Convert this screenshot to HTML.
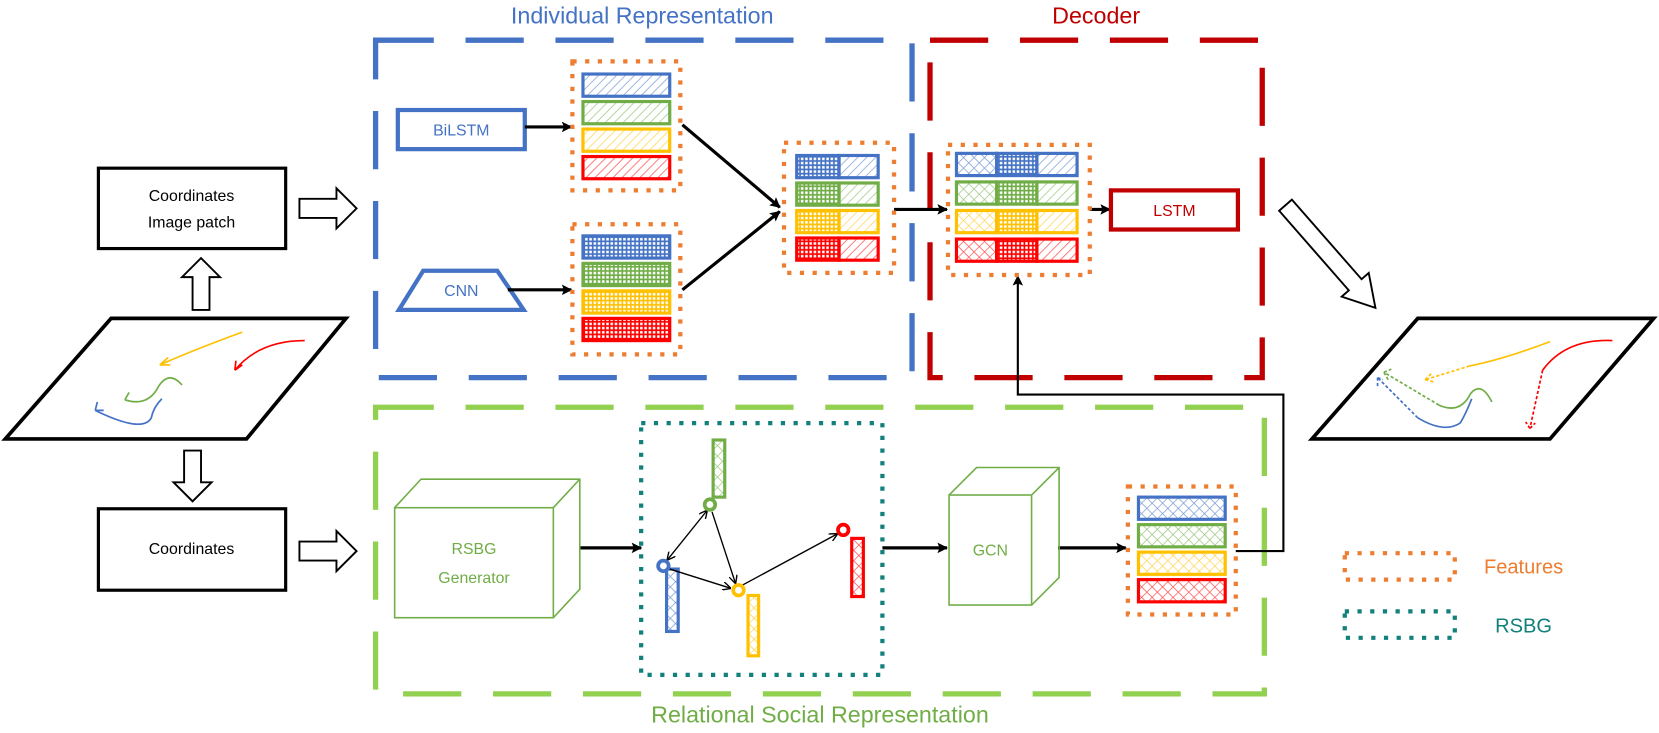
<!DOCTYPE html>
<html><head><meta charset="utf-8"><style>
html,body{margin:0;padding:0;background:#fff;}
svg{display:block;}
text{font-family:"Liberation Sans",sans-serif;}
</style></head><body>
<svg width="1659" height="733" viewBox="0 0 1568 693" preserveAspectRatio="none" xmlns="http://www.w3.org/2000/svg">
<defs>
<marker id="ah" markerWidth="10" markerHeight="10" refX="9" refY="5" orient="auto" markerUnits="userSpaceOnUse"><path d="M0,0 L10,5 L0,10 L2,5 z" fill="#000"/></marker>
<marker id="ahs" markerWidth="8" markerHeight="8" refX="7" refY="4" orient="auto-start-reverse" markerUnits="userSpaceOnUse"><path d="M0,0 L8,4 L0,8" fill="none" stroke="#000" stroke-width="1.3"/></marker>
<!-- hatch patterns -->
<pattern id="hB" width="6" height="6" patternUnits="userSpaceOnUse" patternTransform="rotate(45)"><line x1="0" y1="0" x2="0" y2="6" stroke="#4472c4" stroke-width="1.6" opacity=".6"/></pattern>
<pattern id="hG" width="6" height="6" patternUnits="userSpaceOnUse" patternTransform="rotate(45)"><line x1="0" y1="0" x2="0" y2="6" stroke="#70ad47" stroke-width="1.6" opacity=".6"/></pattern>
<pattern id="hY" width="6" height="6" patternUnits="userSpaceOnUse" patternTransform="rotate(45)"><line x1="0" y1="0" x2="0" y2="6" stroke="#ffc000" stroke-width="1.6" opacity=".6"/></pattern>
<pattern id="hR" width="6" height="6" patternUnits="userSpaceOnUse" patternTransform="rotate(45)"><line x1="0" y1="0" x2="0" y2="6" stroke="#ff0000" stroke-width="1.6" opacity=".6"/></pattern>
<pattern id="gB" width="4" height="4" patternUnits="userSpaceOnUse"><rect width="4" height="4" fill="#4472c4"/><rect x="1" y="1" width="2.4" height="2.4" fill="#fff"/></pattern>
<pattern id="gG" width="4" height="4" patternUnits="userSpaceOnUse"><rect width="4" height="4" fill="#70ad47"/><rect x="1" y="1" width="2.4" height="2.4" fill="#fff"/></pattern>
<pattern id="gY" width="4" height="4" patternUnits="userSpaceOnUse"><rect width="4" height="4" fill="#ffc000"/><rect x="1" y="1" width="2.4" height="2.4" fill="#fff"/></pattern>
<pattern id="gR" width="4" height="4" patternUnits="userSpaceOnUse"><rect width="4" height="4" fill="#ff0000"/><rect x="1" y="1" width="2.4" height="2.4" fill="#fff"/></pattern>
<pattern id="xB" width="7" height="7" patternUnits="userSpaceOnUse" patternTransform="rotate(45)"><path d="M0,0V7M0,0H7" stroke="#4472c4" stroke-width="1.3" opacity=".7"/></pattern>
<pattern id="xG" width="7" height="7" patternUnits="userSpaceOnUse" patternTransform="rotate(45)"><path d="M0,0V7M0,0H7" stroke="#70ad47" stroke-width="1.3" opacity=".7"/></pattern>
<pattern id="xY" width="7" height="7" patternUnits="userSpaceOnUse" patternTransform="rotate(45)"><path d="M0,0V7M0,0H7" stroke="#ffc000" stroke-width="1.3" opacity=".7"/></pattern>
<pattern id="xR" width="7" height="7" patternUnits="userSpaceOnUse" patternTransform="rotate(45)"><path d="M0,0V7M0,0H7" stroke="#ff0000" stroke-width="1.3" opacity=".7"/></pattern>
</defs>

<!-- titles -->
<text x="607" y="22" font-size="22" fill="#4472c4" text-anchor="middle">Individual Representation</text>
<text x="1036" y="22" font-size="22" fill="#c00000" text-anchor="middle">Decoder</text>
<text x="775" y="683" font-size="22" fill="#70ad47" text-anchor="middle">Relational Social Representation</text>

<!-- dashed boxes -->
<rect x="355" y="38" width="507" height="319" fill="none" stroke="#4472c4" stroke-width="5" stroke-dasharray="55 30"/>
<rect x="879" y="38" width="314" height="319" fill="none" stroke="#c00000" stroke-width="5" stroke-dasharray="55 30"/>
<rect x="355" y="385" width="840" height="271" fill="none" stroke="#92d050" stroke-width="5" stroke-dasharray="55 30"/>

<!-- left boxes -->
<rect x="93" y="159" width="177" height="76" fill="#fff" stroke="#000" stroke-width="3"/>
<text x="181" y="190" font-size="15" text-anchor="middle">Coordinates</text>
<text x="181" y="215" font-size="15" text-anchor="middle">Image patch</text>
<rect x="93" y="481" width="177" height="77" fill="#fff" stroke="#000" stroke-width="3"/>
<text x="181" y="524" font-size="15" text-anchor="middle">Coordinates</text>

<!-- hollow arrows -->
<g fill="#fff" stroke="#000" stroke-width="1.8">
<polygon points="283,188 318,188 318,178 337,197 318,216 318,206 283,206"/>
<polygon points="283,512 318,512 318,502 337,521 318,540 318,530 283,530"/>
<polygon points="182,293 182,262 172,262 190,244 208,262 198,262 198,293"/>
<polygon points="174,426 190,426 190,456 200,456 182,474 164,456 174,456"/>
<polygon transform="translate(1215,194) rotate(48.8)" points="0,-8 100,-8 100,-17 129,0 100,17 100,8 0,8"/>
</g>

<!-- parallelograms -->
<polygon points="105,301 327,301 233,415 5,415" fill="#fff" stroke="#000" stroke-width="3.5"/>
<polygon points="1340,301 1563,301 1465,415 1240,415" fill="#fff" stroke="#000" stroke-width="3.5"/>
<g fill="none" stroke-width="1.6">
<path d="M229,314 Q185,330 151,345 M151,345 l8,-7 M151,345 l10,0" stroke="#ffc000"/>
<path d="M288,322 Q245,322 222,350 M222,350 l1,-9 M222,350 l7,-5" stroke="#ff0000"/>
<path d="M172,364 Q160,350 150,365 Q140,385 118,378 M118,378 l4,-7 M118,378 l8,2" stroke="#70ad47"/>
<path d="M153,377 Q145,385 143,395 Q135,410 90,388 M90,388 l2,-8 M90,388 l8,0" stroke="#4472c4"/>
<path d="M1465,323 Q1420,340 1389,346" stroke="#ffc000"/>
<path d="M1389,346 L1347,359 M1347,359 l6,-6 M1347,359 l8,2" stroke="#ffc000" stroke-dasharray="3 2"/>
<path d="M1524,322 Q1480,320 1458,350" stroke="#ff0000"/>
<path d="M1458,350 L1446,405 M1446,405 l-4,-6 M1446,405 l5,-5" stroke="#ff0000" stroke-dasharray="3 2"/>
<path d="M1410,380 Q1400,360 1390,372 Q1380,392 1360,383" stroke="#70ad47"/>
<path d="M1360,383 L1308,352 M1308,352 l4,7 M1308,352 l7,-3" stroke="#70ad47" stroke-dasharray="3 2"/>
<path d="M1391,377 Q1385,392 1380,400 Q1365,410 1340,395" stroke="#4472c4"/>
<path d="M1340,395 L1302,357 M1302,357 l0,8 M1302,357 l5,2" stroke="#4472c4" stroke-dasharray="3 2"/>
</g>

<!-- BiLSTM / CNN -->
<rect x="376" y="104" width="120" height="37" fill="#fff" stroke="#4472c4" stroke-width="4"/>
<text x="436" y="128" font-size="15" fill="#4472c4" text-anchor="middle">BiLSTM</text>
<polygon points="400,256 470,256 495,293 377,293" fill="#fff" stroke="#4472c4" stroke-width="4"/>
<text x="436" y="280" font-size="15" fill="#4472c4" text-anchor="middle">CNN</text>
<g stroke="#000" stroke-width="3" fill="none">
<line x1="496" y1="120" x2="540" y2="120" marker-end="url(#ah)"/>
<line x1="480" y1="274" x2="540" y2="274" marker-end="url(#ah)"/>
<line x1="645" y1="118" x2="737" y2="196" marker-end="url(#ah)"/>
<line x1="645" y1="274" x2="737" y2="200" marker-end="url(#ah)"/>
<line x1="845" y1="198" x2="895" y2="198" marker-end="url(#ah)"/>
<line x1="1030" y1="198" x2="1049" y2="198" marker-end="url(#ah)"/>
<line x1="548" y1="518" x2="606" y2="518" marker-end="url(#ah)"/>
<line x1="834" y1="518" x2="895" y2="518" marker-end="url(#ah)"/>
<line x1="1000" y1="518" x2="1064" y2="518" marker-end="url(#ah)"/>
<polyline points="1168,521 1213,521 1213,373 962,373 962,261" stroke-width="2" marker-end="url(#ah)"/>
</g>

<!-- Stack 1 -->
<rect x="541" y="58" width="102" height="122" fill="none" stroke="#ed7d31" stroke-width="4" stroke-dasharray="4 8"/>
<g stroke-width="3">
<rect x="551" y="70" width="82" height="21" fill="url(#hB)" stroke="#4472c4"/>
<rect x="551" y="96" width="82" height="21" fill="url(#hG)" stroke="#70ad47"/>
<rect x="551" y="122" width="82" height="21" fill="url(#hY)" stroke="#ffc000"/>
<rect x="551" y="148" width="82" height="21" fill="url(#hR)" stroke="#ff0000"/>
</g>
<!-- Stack 2 -->
<rect x="541" y="212" width="102" height="123" fill="none" stroke="#ed7d31" stroke-width="4" stroke-dasharray="4 8"/>
<g stroke-width="3">
<rect x="551" y="223" width="82" height="21" fill="url(#gB)" stroke="#4472c4"/>
<rect x="551" y="249" width="82" height="21" fill="url(#gG)" stroke="#70ad47"/>
<rect x="551" y="275" width="82" height="21" fill="url(#gY)" stroke="#ffc000"/>
<rect x="551" y="301" width="82" height="21" fill="url(#gR)" stroke="#ff0000"/>
</g>
<!-- Stack 3 -->
<rect x="741" y="135" width="104" height="123" fill="none" stroke="#ed7d31" stroke-width="4" stroke-dasharray="4 8"/>
<g stroke-width="3">
<rect x="753" y="147" width="40" height="21" fill="url(#gB)" stroke="#4472c4"/><rect x="793" y="147" width="37" height="21" fill="url(#hB)" stroke="#4472c4"/>
<rect x="753" y="173" width="40" height="21" fill="url(#gG)" stroke="#70ad47"/><rect x="793" y="173" width="37" height="21" fill="url(#hG)" stroke="#70ad47"/>
<rect x="753" y="199" width="40" height="21" fill="url(#gY)" stroke="#ffc000"/><rect x="793" y="199" width="37" height="21" fill="url(#hY)" stroke="#ffc000"/>
<rect x="753" y="225" width="40" height="21" fill="url(#gR)" stroke="#ff0000"/><rect x="793" y="225" width="37" height="21" fill="url(#hR)" stroke="#ff0000"/>
</g>
<!-- Stack 4 -->
<rect x="896" y="137" width="134" height="123" fill="none" stroke="#ed7d31" stroke-width="4" stroke-dasharray="4 8"/>
<g stroke-width="3">
<rect x="904" y="145" width="38" height="21" fill="url(#xB)" stroke="#4472c4"/><rect x="942" y="145" width="38" height="21" fill="url(#gB)" stroke="#4472c4"/><rect x="980" y="145" width="38" height="21" fill="url(#hB)" stroke="#4472c4"/>
<rect x="904" y="172" width="38" height="21" fill="url(#xG)" stroke="#70ad47"/><rect x="942" y="172" width="38" height="21" fill="url(#gG)" stroke="#70ad47"/><rect x="980" y="172" width="38" height="21" fill="url(#hG)" stroke="#70ad47"/>
<rect x="904" y="199" width="38" height="21" fill="url(#xY)" stroke="#ffc000"/><rect x="942" y="199" width="38" height="21" fill="url(#gY)" stroke="#ffc000"/><rect x="980" y="199" width="38" height="21" fill="url(#hY)" stroke="#ffc000"/>
<rect x="904" y="226" width="38" height="21" fill="url(#xR)" stroke="#ff0000"/><rect x="942" y="226" width="38" height="21" fill="url(#gR)" stroke="#ff0000"/><rect x="980" y="226" width="38" height="21" fill="url(#hR)" stroke="#ff0000"/>
</g>
<!-- LSTM -->
<rect x="1050" y="180" width="120" height="37" fill="#fff" stroke="#c00000" stroke-width="4"/>
<text x="1110" y="204" font-size="15" fill="#c00000" text-anchor="middle">LSTM</text>

<!-- RSBG Generator cube -->
<g fill="none" stroke="#70ad47" stroke-width="1.5">
<rect x="373" y="480" width="150" height="104"/>
<polyline points="373,480 398,453 548,453 548,557 523,584"/>
<line x1="523" y1="480" x2="548" y2="453"/>
</g>
<text x="448" y="524" font-size="15" fill="#70ad47" text-anchor="middle">RSBG</text>
<text x="448" y="551" font-size="15" fill="#70ad47" text-anchor="middle">Generator</text>
<!-- GCN cube -->
<g fill="none" stroke="#70ad47" stroke-width="1.5">
<rect x="897" y="468" width="78" height="104"/>
<polyline points="897,468 923,442 1001,442 1001,546 975,572"/>
<line x1="975" y1="468" x2="1001" y2="442"/>
</g>
<text x="936" y="525" font-size="15" fill="#70ad47" text-anchor="middle">GCN</text>

<!-- RSBG dotted box & graph -->
<rect x="606" y="400" width="228" height="238" fill="none" stroke="#12807b" stroke-width="4" stroke-dasharray="4 8"/>
<g stroke-width="3">
<rect x="674" y="416" width="11" height="54" fill="url(#xG)" stroke="#70ad47"/>
<rect x="630" y="538" width="11" height="59" fill="url(#xB)" stroke="#4472c4"/>
<rect x="707" y="563" width="10" height="57" fill="url(#xY)" stroke="#ffc000"/>
<rect x="805" y="509" width="11" height="55" fill="url(#xR)" stroke="#ff0000"/>
</g>
<g fill="none" stroke="#000" stroke-width="1.3">
<line x1="668" y1="483" x2="631" y2="529" marker-start="url(#ahs)" marker-end="url(#ahs)"/>
<line x1="673" y1="484" x2="695" y2="551" marker-end="url(#ahs)"/>
<line x1="633" y1="538" x2="690" y2="556" marker-end="url(#ahs)"/>
<line x1="702" y1="553" x2="791" y2="505" marker-end="url(#ahs)"/>
</g>
<g fill="#fff" stroke-width="3.5">
<circle cx="671" cy="477" r="5" stroke="#70ad47"/>
<circle cx="627" cy="535" r="5" stroke="#4472c4"/>
<circle cx="698" cy="558" r="5" stroke="#ffc000"/>
<circle cx="797" cy="501" r="5" stroke="#ff0000"/>
</g>

<!-- Stack 5 -->
<rect x="1066" y="460" width="102" height="121" fill="none" stroke="#ed7d31" stroke-width="4" stroke-dasharray="4 8"/>
<g stroke-width="3">
<rect x="1076" y="470" width="82" height="21" fill="url(#xB)" stroke="#4472c4"/>
<rect x="1076" y="496" width="82" height="21" fill="url(#xG)" stroke="#70ad47"/>
<rect x="1076" y="522" width="82" height="21" fill="url(#xY)" stroke="#ffc000"/>
<rect x="1076" y="548" width="82" height="21" fill="url(#xR)" stroke="#ff0000"/>
</g>

<!-- legend -->
<rect x="1271" y="523" width="104" height="25" fill="none" stroke="#ed7d31" stroke-width="4" stroke-dasharray="4 8"/>
<text x="1440" y="542" font-size="19" fill="#ed7d31" text-anchor="middle">Features</text>
<rect x="1271" y="578" width="104" height="25" fill="none" stroke="#12807b" stroke-width="4" stroke-dasharray="4 8"/>
<text x="1440" y="598" font-size="19" fill="#12807b" text-anchor="middle">RSBG</text>
</svg>
</body></html>
